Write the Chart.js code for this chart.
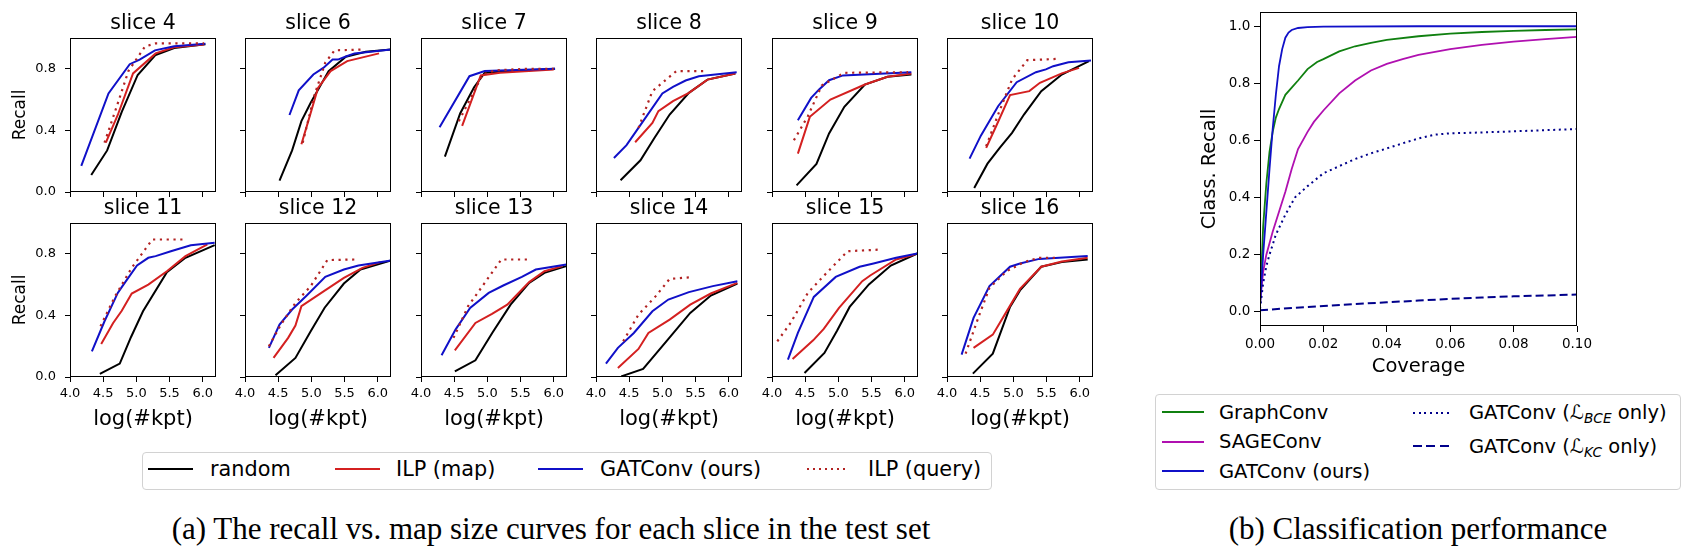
<!DOCTYPE html>
<html>
<head>
<meta charset="utf-8">
<script src="https://cdn.jsdelivr.net/npm/chart.js@4.4.1/dist/chart.umd.min.js"></script>
<style>
  body { margin:0; width:1693px; height:549px; background:#fff; position:relative; overflow:hidden; font-family:'DejaVu Sans'; }
  canvas { position:absolute; }
  .legend { position:absolute; border:1px solid #d2d2d2; border-radius:4px; background:#fff; box-sizing:border-box; }
  .item { position:absolute; white-space:nowrap; color:#000; line-height:24px; }
  .handle { position:absolute; height:2px; }
  .cal { font-style:italic; }
  sub { font-size:0.7em; font-style:italic; vertical-align:-0.3em; line-height:0; }
  .caption { position:absolute; top:511px; font-family:'Liberation Serif'; font-size:31px; line-height:36px; white-space:nowrap; transform:translateX(-50%); color:#000; }
</style>
</head>
<body>

<div class="legend" style="left:142px;top:452px;width:850px;height:38px;"></div>
<div class="handle" style="left:148px;top:468px;width:45px;background:#000;"></div>
<div class="item" style="left:210px;top:457px;font-size:20.8px;">random</div>
<div class="handle" style="left:335px;top:468px;width:45px;background:#d42020;"></div>
<div class="item" style="left:396px;top:457px;font-size:20.8px;">ILP (map)</div>
<div class="handle" style="left:538px;top:468px;width:45px;background:#1010c8;"></div>
<div class="item" style="left:600px;top:457px;font-size:20.8px;">GATConv (ours)</div>
<div class="handle" style="left:807px;top:468px;width:42px;background:repeating-linear-gradient(90deg,#b22222 0 2px,transparent 2px 6px);"></div>
<div class="item" style="left:868px;top:457px;font-size:20.8px;">ILP (query)</div>

<div class="legend" style="left:1155px;top:394px;width:526px;height:96px;"></div>
<div class="handle" style="left:1162px;top:411px;width:42px;background:#108010;"></div>
<div class="item" style="left:1219px;top:401px;font-size:19.5px;">GraphConv</div>
<div class="handle" style="left:1162px;top:441px;width:42px;background:#b010b0;"></div>
<div class="item" style="left:1219px;top:430px;font-size:19.5px;">SAGEConv</div>
<div class="handle" style="left:1162px;top:470px;width:42px;background:#1010c8;"></div>
<div class="item" style="left:1219px;top:460px;font-size:19.5px;">GATConv (ours)</div>
<div class="handle" style="left:1413px;top:412px;width:40px;background:repeating-linear-gradient(90deg,#00008b 0 2px,transparent 2px 5.7px);"></div>
<div class="item" style="left:1469px;top:401px;font-size:19.5px;">GATConv (<span class="cal">ℒ</span><sub>BCE</sub> only)</div>
<div class="handle" style="left:1413px;top:445px;width:40px;background:repeating-linear-gradient(90deg,#00008b 0 9px,transparent 9px 13.5px);"></div>
<div class="item" style="left:1469px;top:435px;font-size:19.5px;">GATConv (<span class="cal">ℒ</span><sub>KC</sub> only)</div>

<div class="caption" style="left:551px;">(a) The recall vs. map size curves for each slice in the test set</div>
<div class="caption" style="left:1418px;">(b) Classification performance</div>

<script>
// ---- data ----
const sliceTitles = ['slice 4','slice 6','slice 7','slice 8','slice 9','slice 10',
                     'slice 11','slice 12','slice 13','slice 14','slice 15','slice 16'];
const recallTicks = [0, 0.4, 0.8];
const kptTicks = [4.0, 4.5, 5.0, 5.5, 6.0];

// [log(#kpt), recall] per slice
const randomCurves = [
  [[4.32,0.11],[4.56,0.27],[4.78,0.52],[5.02,0.76],[5.29,0.89],[5.57,0.935],[6.04,0.96]],
  [[4.52,0.074],[4.71,0.27],[4.85,0.46],[4.99,0.58],[5.26,0.785],[5.52,0.878],[5.82,0.91],[6.2,0.925]],
  [[4.36,0.23],[4.59,0.51],[4.8,0.68],[4.96,0.775],[6.02,0.8]],
  [[4.37,0.076],[4.67,0.206],[4.88,0.351],[5.11,0.503],[5.4,0.644],[5.68,0.73],[6.1,0.77]],
  [[4.37,0.043],[4.67,0.182],[4.86,0.38],[5.09,0.553],[5.4,0.698],[5.74,0.748],[6.1,0.763]],
  [[4.41,0.026],[4.61,0.184],[4.8,0.29],[4.98,0.384],[5.16,0.503],[5.42,0.655],[5.73,0.763],[6.14,0.85]],
  [[4.45,0.02],[4.75,0.087],[4.92,0.26],[5.1,0.427],[5.46,0.681],[5.74,0.774],[6.18,0.856]],
  [[4.46,0.011],[4.76,0.124],[4.99,0.297],[5.2,0.45],[5.49,0.607],[5.74,0.698],[6.2,0.757]],
  [[4.51,0.037],[4.82,0.108],[5.08,0.29],[5.35,0.47],[5.63,0.611],[5.86,0.676],[6.19,0.72]],
  [[4.38,0.004],[4.71,0.052],[5.06,0.232],[5.42,0.416],[5.73,0.529],[6.13,0.607]],
  [[4.49,0.026],[4.79,0.156],[4.98,0.3],[5.17,0.455],[5.46,0.601],[5.79,0.724],[6.19,0.802]],
  [[4.39,0.022],[4.69,0.152],[4.95,0.455],[5.1,0.562],[5.42,0.716],[5.73,0.746],[6.12,0.763]]
];
const ilpMapCurves = [
  [[4.54,0.32],[4.72,0.5],[4.95,0.77],[5.29,0.9],[5.57,0.94],[6.02,0.958]],
  [[4.85,0.31],[4.96,0.47],[5.1,0.676],[5.29,0.785],[5.54,0.85],[6.02,0.9]],
  [[4.62,0.43],[4.9,0.757],[5.19,0.775],[6.0,0.795]],
  [[4.59,0.323],[4.85,0.449],[4.94,0.525],[5.16,0.59],[5.4,0.644],[5.68,0.73],[6.1,0.77]],
  [[4.39,0.249],[4.57,0.488],[4.88,0.6],[5.4,0.698],[5.74,0.748],[6.1,0.77]],
  [[4.59,0.286],[4.74,0.427],[4.95,0.629],[5.24,0.655],[5.4,0.709],[5.73,0.77],[5.99,0.806]],
  [[4.47,0.215],[4.65,0.351],[4.78,0.43],[4.93,0.542],[5.18,0.6],[5.46,0.687],[5.74,0.785],[6.07,0.861]],
  [[4.43,0.124],[4.65,0.254],[4.76,0.334],[4.85,0.46],[5.15,0.546],[5.49,0.644],[5.77,0.709],[6.04,0.746]],
  [[4.51,0.173],[4.82,0.351],[5.07,0.41],[5.3,0.47],[5.63,0.616],[5.86,0.687],[6.13,0.72]],
  [[4.33,0.059],[4.64,0.182],[4.79,0.286],[5.11,0.373],[5.42,0.47],[5.73,0.542],[6.13,0.611]],
  [[4.31,0.117],[4.62,0.238],[4.78,0.312],[5.01,0.449],[5.36,0.622],[5.48,0.659],[5.87,0.763],[6.15,0.796]],
  [[4.4,0.189],[4.69,0.275],[4.87,0.405],[5.1,0.572],[5.42,0.716],[5.73,0.75],[6.12,0.774]]
];
const gatCurves = [
  [[4.17,0.17],[4.58,0.64],[4.9,0.83],[5.05,0.86],[5.28,0.92],[5.57,0.947],[6.04,0.962]],
  [[4.67,0.5],[4.81,0.66],[5.03,0.763],[5.18,0.806],[5.32,0.86],[5.4,0.86],[5.52,0.88],[5.65,0.9],[6.2,0.925]],
  [[4.28,0.42],[4.73,0.752],[4.96,0.785],[6.02,0.8]],
  [[4.27,0.221],[4.46,0.304],[4.64,0.416],[5.0,0.64],[5.16,0.683],[5.35,0.724],[5.55,0.752],[6.12,0.778]],
  [[4.39,0.466],[4.59,0.611],[4.71,0.666],[4.86,0.726],[5.07,0.757],[6.1,0.778]],
  [[4.34,0.217],[4.51,0.366],[4.77,0.557],[5.05,0.713],[5.34,0.778],[5.49,0.796],[5.6,0.817],[5.83,0.843],[6.17,0.854]],
  [[4.33,0.167],[4.52,0.362],[4.72,0.546],[4.79,0.59],[5.01,0.724],[5.18,0.774],[5.29,0.785],[5.52,0.817],[5.82,0.856],[6.18,0.872]],
  [[4.36,0.189],[4.52,0.34],[4.71,0.438],[4.93,0.529],[5.21,0.65],[5.49,0.698],[5.71,0.724],[6.2,0.757]],
  [[4.31,0.141],[4.52,0.308],[4.74,0.449],[5.02,0.546],[5.24,0.594],[5.52,0.65],[5.73,0.698],[6.19,0.731]],
  [[4.15,0.087],[4.33,0.189],[4.57,0.286],[4.85,0.427],[5.09,0.503],[5.4,0.551],[5.76,0.59],[6.13,0.622]],
  [[4.24,0.113],[4.39,0.286],[4.63,0.52],[4.96,0.65],[5.32,0.716],[5.53,0.737],[5.87,0.774],[6.19,0.802]],
  [[4.22,0.145],[4.4,0.384],[4.64,0.59],[4.95,0.716],[5.1,0.737],[5.39,0.767],[6.12,0.785]]
];
const ilpQueryCurves = [
  [[4.52,0.32],[4.7,0.55],[4.88,0.785],[5.13,0.945],[5.29,0.965],[5.6,0.965],[6.02,0.965]],
  [[4.87,0.32],[5.04,0.62],[5.21,0.84],[5.35,0.92],[5.79,0.925]],
  [[4.57,0.46],[4.93,0.763],[5.12,0.79],[5.6,0.8],[6.0,0.8]],
  [[4.64,0.416],[4.85,0.655],[5.21,0.785],[5.68,0.785]],
  [[4.33,0.336],[4.54,0.492],[4.75,0.692],[5.09,0.774],[6.05,0.778]],
  [[4.59,0.297],[4.79,0.525],[4.98,0.731],[5.21,0.856],[5.7,0.865]],
  [[4.46,0.33],[4.68,0.525],[4.93,0.709],[5.24,0.893],[5.74,0.893]],
  [[4.36,0.2],[4.54,0.34],[4.76,0.481],[4.99,0.59],[5.24,0.759],[5.65,0.763]],
  [[4.49,0.254],[4.71,0.46],[4.96,0.611],[5.21,0.763],[5.66,0.763]],
  [[4.41,0.232],[4.64,0.405],[4.9,0.525],[5.11,0.637],[5.45,0.648]],
  [[4.08,0.232],[4.28,0.351],[4.54,0.546],[4.8,0.666],[5.14,0.817],[5.66,0.828]],
  [[4.28,0.152],[4.48,0.395],[4.64,0.579],[4.9,0.687],[5.16,0.746],[5.39,0.774],[5.68,0.774]]
];

// [coverage, class. recall]
const coverageTicks = [0, 0.02, 0.04, 0.06, 0.08, 0.1];
const classRecallTicks = [0, 0.2, 0.4, 0.6, 0.8, 1.0];
const graphConvPts = [[0,0.02],[0.001,0.3],[0.002,0.45],[0.003,0.56],[0.004,0.63],[0.005,0.68],[0.006,0.71],[0.008,0.76],[0.01,0.785],[0.012,0.81],[0.015,0.85],[0.018,0.875],[0.02,0.885],[0.025,0.912],[0.03,0.93],[0.035,0.942],[0.04,0.952],[0.05,0.965],[0.06,0.974],[0.07,0.98],[0.08,0.984],[0.09,0.987],[0.1,0.989]];
const sageConvPts = [[0,0.03],[0.001,0.14],[0.002,0.2],[0.004,0.28],[0.006,0.35],[0.008,0.42],[0.01,0.5],[0.012,0.57],[0.015,0.63],[0.017,0.665],[0.02,0.705],[0.025,0.765],[0.03,0.81],[0.035,0.845],[0.04,0.868],[0.045,0.885],[0.05,0.9],[0.06,0.92],[0.07,0.935],[0.08,0.946],[0.09,0.955],[0.1,0.963]];
const gatConvPts = [[0,0.02],[0.001,0.2],[0.002,0.35],[0.003,0.5],[0.004,0.64],[0.005,0.76],[0.006,0.86],[0.007,0.92],[0.008,0.96],[0.009,0.978],[0.01,0.987],[0.012,0.994],[0.015,0.997],[0.02,0.999],[0.05,1.0],[0.1,1.0]];
const gatBcePts = [[0,0.01],[0.001,0.1],[0.002,0.16],[0.003,0.2],[0.005,0.27],[0.008,0.34],[0.011,0.4],[0.015,0.44],[0.02,0.485],[0.025,0.51],[0.03,0.535],[0.035,0.555],[0.04,0.572],[0.045,0.59],[0.05,0.607],[0.055,0.62],[0.06,0.625],[0.07,0.628],[0.08,0.632],[0.09,0.636],[0.1,0.64]];
const gatKcPts = [[0,0.005],[0.01,0.013],[0.02,0.02],[0.03,0.027],[0.04,0.033],[0.05,0.039],[0.06,0.045],[0.07,0.05],[0.08,0.054],[0.09,0.057],[0.1,0.06]];

// ---- drawing ----
Chart.defaults.font.family = "'DejaVu Sans'";
Chart.defaults.color = '#000';

const framePlugin = {
  id: 'frame',
  afterDraw(chart) {
    const a = chart.chartArea, ctx = chart.ctx;
    const l = Math.round(a.left) + 0.5, t = Math.round(a.top) + 0.5;
    const r = Math.round(a.right) - 0.5, b = Math.round(a.bottom) - 0.5;
    ctx.save();
    ctx.strokeStyle = '#000';
    ctx.lineWidth = 1;
    ctx.strokeRect(l, t, r - l, b - t);
    ctx.restore();
  }
};

function makeCanvas(left, top, w, h) {
  const c = document.createElement('canvas');
  c.width = w; c.height = h;
  c.style.left = left + 'px'; c.style.top = top + 'px';
  c.style.width = w + 'px'; c.style.height = h + 'px';
  document.body.appendChild(c);
  return c;
}

function line(pts, color, order, dash, width) {
  return { data: pts, borderColor: color, borderWidth: width || 2, borderDash: dash || [],
           pointRadius: 0, tension: 0, fill: false, order: order };
}

const ML = 62, MT = 40, MB = 62, boxW = 146, boxH = 154;
const boxLefts = [70, 245, 421, 596, 772, 947];
const rowTops = [38, 223];

for (let i = 0; i < 12; i++) {
  const row = Math.floor(i / 6), col = i % 6;
  const cv = makeCanvas(boxLefts[col] - ML, rowTops[row] - MT, ML + boxW + ML, MT + boxH + MB);
  new Chart(cv, {
    type: 'line',
    data: { datasets: [
      line(randomCurves[i], '#000000', 3),
      line(ilpMapCurves[i], '#d42020', 2),
      line(gatCurves[i], '#1010c8', 1),
      line(ilpQueryCurves[i], '#b22222', 0, [2.2, 4.6], 2.2)
    ]},
    options: {
      responsive: false, animation: false, events: [],
      layout: { padding: { left: 0, right: ML, top: 0, bottom: 0 } },
      plugins: {
        legend: { display: false }, tooltip: { enabled: false },
        title: { display: true, text: sliceTitles[i], color: '#000', fullSize: false, align: 'center',
                 font: { size: 20.5, weight: 'normal' }, padding: { top: 13.4, bottom: 2 } }
      },
      scales: {
        x: {
          type: 'linear', min: 4.0, max: 6.2,
          afterFit: s => { s.height = MB; },
          afterBuildTicks: s => { s.ticks = kptTicks.map(v => ({ value: v })); },
          ticks: { display: row === 1, padding: 3.6, font: { size: 13 }, maxRotation: 0, autoSkip: false,
                   callback: v => v.toFixed(1) },
          grid: { drawOnChartArea: false, tickLength: 5, tickColor: '#000' },
          border: { display: false },
          title: { display: row === 1, text: 'log(#kpt)', font: { size: 21 }, padding: { top: 0, bottom: 6.7 } }
        },
        y: {
          min: 0, max: 1,
          afterFit: s => { s.width = ML; },
          afterBuildTicks: s => { s.ticks = recallTicks.map(v => ({ value: v })); },
          ticks: { display: col === 0, padding: 9, font: { size: 13 }, callback: v => v.toFixed(1) },
          grid: { drawOnChartArea: false, tickLength: 5, tickColor: '#000' },
          border: { display: false },
          title: { display: col === 0, text: 'Recall', font: { size: 17 }, padding: { top: 2.6, bottom: 0 } }
        }
      }
    },
    plugins: [framePlugin]
  });
}

// classification chart
const RL = 80, RR = 30, RT = 12, RB = 55;
const rcv = makeCanvas(1260 - RL, 0, RL + 317 + RR, RT + 314 + RB);
new Chart(rcv, {
  type: 'line',
  data: { datasets: [
    line(graphConvPts, '#108010', 4, [], 1.8),
    line(sageConvPts, '#b010b0', 3, [], 1.8),
    line(gatConvPts, '#1010c8', 2, [], 1.8),
    line(gatBcePts, '#00008b', 1, [2, 3.6], 2),
    line(gatKcPts, '#00008b', 0, [8, 4], 2)
  ]},
  options: {
    responsive: false, animation: false, events: [],
    layout: { padding: { left: 0, right: RR, top: RT, bottom: 0 } },
    plugins: { legend: { display: false }, tooltip: { enabled: false } },
    scales: {
      x: {
        type: 'linear', min: 0, max: 0.1,
        afterFit: s => { s.height = RB; },
        afterBuildTicks: s => { s.ticks = coverageTicks.map(v => ({ value: v })); },
        ticks: { padding: 3.9, font: { size: 13.5 }, maxRotation: 0, autoSkip: false, callback: v => v.toFixed(2) },
        grid: { drawOnChartArea: false, tickLength: 6, tickColor: '#000' },
        border: { display: false },
        title: { display: true, text: 'Coverage', font: { size: 19.5 }, padding: { top: 0, bottom: 2.6 } }
      },
      y: {
        min: -0.05, max: 1.05,
        afterFit: s => { s.width = RL; },
        afterBuildTicks: s => { s.ticks = classRecallTicks.map(v => ({ value: v })); },
        ticks: { padding: 3.7, font: { size: 13.5 }, callback: v => v.toFixed(1) },
        grid: { drawOnChartArea: false, tickLength: 6, tickColor: '#000' },
        border: { display: false },
        title: { display: true, text: 'Class. Recall', font: { size: 19.3 }, padding: { top: 18, bottom: 0 } }
      }
    }
  },
  plugins: [framePlugin]
});
</script>
</body>
</html>
